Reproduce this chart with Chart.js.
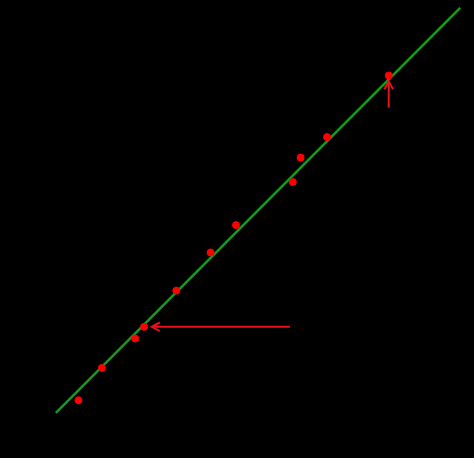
<!DOCTYPE html>
<html>
<head>
<meta charset="utf-8">
<script src="https://cdn.jsdelivr.net/npm/chart.js@4"></script>
<style>
  html, body { margin: 0; padding: 0; background: #000; }
  #wrap { width: 474px; height: 458px; }
</style>
</head>
<body>
<div id="wrap"><canvas id="chart"></canvas></div>
<script>
// values (x right, y up)
const pointX = [75, 99, 133, 142, 175, 210, 236, 294, 302, 329, 392];
const pointY = [54, 87, 117, 129, 166, 205, 233, 277, 302, 323, 386];
const fitX = [52, 465];
const fitY = [41, 455];
const arrowH = { x: [291, 150], y: [129, 129] };
const arrowV = { x: [392, 392], y: [353, 380] };

const toXY = (xs, ys) => xs.map((x, i) => ({ x, y: ys[i] }));

const background = {
  id: 'background',
  beforeDraw(chart) {
    const ctx = chart.ctx;
    ctx.save();
    ctx.fillStyle = '#000';
    ctx.fillRect(0, 0, chart.width, chart.height);
    ctx.restore();
  }
};

// arrowheads at the end of each arrow dataset
const arrowHeads = {
  id: 'arrowHeads',
  afterDatasetsDraw(chart) {
    const ctx = chart.ctx;
    const xs = chart.scales.x, ys = chart.scales.y;
    [arrowH, arrowV].forEach(a => {
      const x1 = xs.getPixelForValue(a.x[0]), y1 = ys.getPixelForValue(a.y[0]);
      const x2 = xs.getPixelForValue(a.x[1]), y2 = ys.getPixelForValue(a.y[1]);
      const ang = Math.atan2(y2 - y1, x2 - x1);
      const len = 9;
      ctx.save();
      ctx.strokeStyle = '#e8121a';
      ctx.lineWidth = 2;
      ctx.beginPath();
      ctx.moveTo(x2 - len * Math.cos(ang - 0.5), y2 - len * Math.sin(ang - 0.5));
      ctx.lineTo(x2, y2);
      ctx.lineTo(x2 - len * Math.cos(ang + 0.5), y2 - len * Math.sin(ang + 0.5));
      ctx.stroke();
      ctx.restore();
    });
  }
};

new Chart(document.getElementById('chart'), {
  type: 'scatter',
  data: {
    datasets: [
      {
        data: toXY(fitX, fitY), showLine: true, borderColor: '#1a9a1a',
        borderWidth: 2.5, pointRadius: 0, order: 2
      },
      {
        data: toXY(pointX, pointY), backgroundColor: '#ff0000',
        borderColor: '#ff0000', pointRadius: 3.5, order: 1
      },
      {
        data: toXY(arrowH.x, arrowH.y), showLine: true, borderColor: '#e8121a',
        borderWidth: 2, pointRadius: 0
      },
      {
        data: toXY(arrowV.x, arrowV.y), showLine: true, borderColor: '#e8121a',
        borderWidth: 2, pointRadius: 0
      }
    ]
  },
  options: {
    responsive: true,
    maintainAspectRatio: false,
    animation: false,
    layout: { padding: 0 },
    plugins: { legend: { display: false }, tooltip: { enabled: false } },
    scales: {
      x: { type: 'linear', min: 0, max: 474, display: false },
      y: { type: 'linear', min: 0, max: 458, display: false }
    }
  },
  plugins: [background, arrowHeads]
});
</script>
</body>
</html>
